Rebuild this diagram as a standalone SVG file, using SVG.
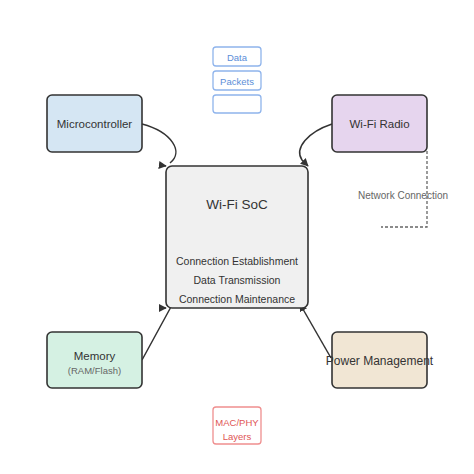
<svg xmlns="http://www.w3.org/2000/svg" width="474" height="474" viewBox="0 0 474 474">
<style>
text{font-family:"Liberation Sans",Arial,sans-serif;text-anchor:middle;fill:#333}
.node{stroke:#333;stroke-width:1.6}
.blue{fill:#fff;stroke:#8fb4ec;stroke-width:1.3}
.bt{fill:#5b8ed8;font-size:9.5px}
.red{fill:#fff;stroke:#ef8f8f;stroke-width:1.3}
.rt{fill:#e05555;font-size:9.5px}
.edge{fill:none;stroke:#333;stroke-width:1.5}
</style>
<defs>
<marker id="ah" viewBox="0 0 10 10" refX="9" refY="5" markerWidth="8" markerHeight="8" markerUnits="userSpaceOnUse" orient="auto">
<path d="M0,0 L10,5 L0,10 z" fill="#333"/>
</marker>
</defs>
<rect width="474" height="474" fill="#fff"/>
<g id="data-packets">
<rect class="blue" x="213" y="47" width="48" height="19" rx="3"/>
<text class="bt" x="237" y="60.5">Data</text>
<rect class="blue" x="213" y="71" width="48" height="19" rx="3"/>
<text class="bt" x="237" y="84.5">Packets</text>
<rect class="blue" x="213" y="95" width="48" height="18" rx="3"/>
</g>
<g id="connectors">
<path class="edge" d="M142,124 C172,132 184,152 170,163 M159,165 L166,166" marker-end="url(#ah)"/>
<path class="edge" d="M332,124 C308,132 294,148 302,160 L308,166" marker-end="url(#ah)"/>
<path class="edge" d="M142,360 L172,305 M159,308 L166,308" marker-end="url(#ah)"/>
<path class="edge" d="M331,358 L300,304" marker-end="url(#ah)"/>
<path d="M427,151 L427,227 L381,227" fill="none" stroke="#666" stroke-width="1.3" stroke-dasharray="3,2"/>
<text x="403" y="199" style="font-size:10px;fill:#666">Network Connection</text>
</g>
<g id="microcontroller">
<rect class="node" x="47" y="95" width="95" height="57" rx="5" fill="#d5e6f3"/>
<text x="94.5" y="128" style="font-size:11.5px">Microcontroller</text>
</g>
<g id="wifi-radio">
<rect class="node" x="332" y="95" width="95" height="57" rx="5" fill="#e6d5ee"/>
<text x="379.5" y="128" style="font-size:11.5px">Wi-Fi Radio</text>
</g>
<g id="wifi-soc">
<rect class="node" x="166" y="166" width="142" height="142" rx="6" fill="#f0f0f0"/>
<text x="237" y="209" style="font-size:13.5px">Wi-Fi SoC</text>
<text x="237" y="265" style="font-size:10.5px">Connection Establishment</text>
<text x="237" y="284" style="font-size:10.5px">Data Transmission</text>
<text x="237" y="303" style="font-size:10.5px">Connection Maintenance</text>
</g>
<g id="memory">
<rect class="node" x="47" y="332" width="95" height="56" rx="5" fill="#d5f1e3"/>
<text x="94.5" y="360" style="font-size:11.5px">Memory</text>
<text x="94.5" y="374" style="font-size:9.5px;fill:#666">(RAM/Flash)</text>
</g>
<g id="power-management">
<rect class="node" x="332" y="332" width="95" height="56" rx="5" fill="#f1e6d4"/>
<text x="379.5" y="365" style="font-size:12px">Power Management</text>
</g>
<g id="mac-phy">
<rect class="red" x="213" y="407" width="48" height="37" rx="3"/>
<text class="rt" x="237" y="426">MAC/PHY</text>
<text class="rt" x="237" y="440">Layers</text>
</g>
</svg>
